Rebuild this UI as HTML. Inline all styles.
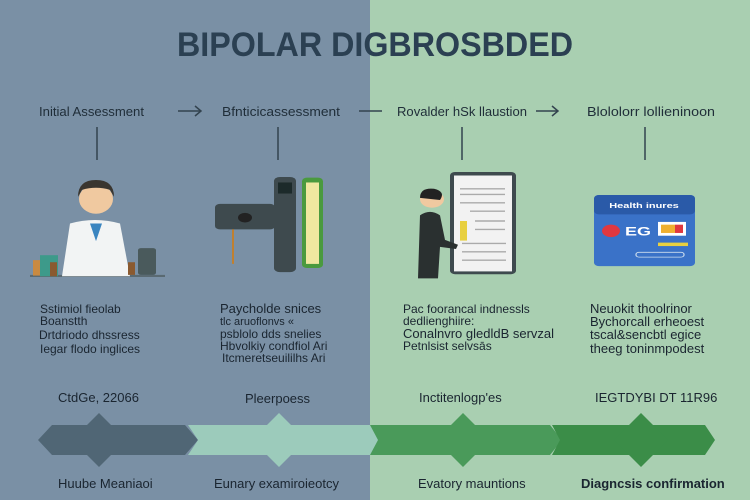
<!DOCTYPE html>
<html><head><meta charset="utf-8"><style>
html,body{margin:0;padding:0;width:750px;height:500px;overflow:hidden}
svg{display:block}
text{font-family:"Liberation Sans",sans-serif}
</style></head><body>
<svg width="750" height="500" viewBox="0 0 750 500">
<rect x="0" y="0" width="370" height="500" fill="#7a90a5"/>
<rect x="370" y="0" width="380" height="500" fill="#a9cfb1"/>
<text x="375" y="56" text-anchor="middle" font-size="34" font-weight="bold" fill="#2b4052" textLength="396" lengthAdjust="spacingAndGlyphs">BIPOLAR DIGBROSBDED</text>
<g font-size="13" fill="#1f2d38">
<text x="39" y="116" textLength="105" lengthAdjust="spacingAndGlyphs">Initial Assessment</text>
<text x="222" y="116" textLength="118" lengthAdjust="spacingAndGlyphs">Bfnticicassessment</text>
<text x="397" y="116" textLength="130" lengthAdjust="spacingAndGlyphs">Rovalder hSk llaustion</text>
<text x="587" y="116" textLength="128" lengthAdjust="spacingAndGlyphs">Blololorr lollieninoon</text>
</g>
<g stroke="#33434f" stroke-width="1.5" fill="none">
<path d="M178 111h23M195 106l6 5-6 5"/>
<path d="M359 111h23"/>
<path d="M536 111h22M552 106l6 5-6 5"/>
<path d="M97 127v33M278 127v33M462 127v33M645 127v33"/>
</g>
<!-- doctor -->
<g transform="translate(0,-1.4) scale(1,0.703)">
<rect x="30" y="393" width="135" height="3" fill="#5a6a72"/>
<rect x="138" y="355" width="18" height="38" rx="3" fill="#4a5a5c"/>
<path d="M62 395 L70 320 Q95 310 120 320 L130 395Z" fill="#f2f4f4"/>
<path d="M90 320 L96 345 L102 320Z" fill="#3a85c0"/>
<ellipse cx="96" cy="285" rx="17" ry="21" fill="#f0c9a0"/>
<path d="M78 282 Q78 258 96 258 Q114 258 114 282 L110 272 Q96 266 82 272Z" fill="#3a3630"/>
<rect x="40" y="365" width="18" height="30" fill="#3d9a8a"/>
<rect x="33" y="372" width="7" height="22" fill="#c98a40"/>
<rect x="50" y="375" width="7" height="20" fill="#8a5a30"/>
<rect x="128" y="375" width="7" height="18" fill="#8a5a30"/>
</g>
<!-- device -->
<g transform="translate(0,1.7) scale(1,0.69)">
<rect x="215" y="293" width="60" height="37" rx="5" fill="#3e4a4e"/>
<circle cx="245" cy="313" r="7" fill="#222"/>
<rect x="274" y="254" width="22" height="138" rx="6" fill="#3e4a4e"/>
<rect x="278" y="262" width="14" height="16" fill="#1c2a2a"/>
<rect x="302" y="255" width="21" height="131" rx="5" fill="#4a9a3e"/>
<rect x="306" y="262" width="13" height="118" fill="#f0e8a0"/>
<path d="M233 330v50" stroke="#c08030" stroke-width="2"/>
</g>
<!-- tablet and person -->
<g transform="translate(0,-1.6) scale(1,0.70)">
<rect x="450" y="248" width="66" height="146" rx="5" fill="#3e4a4e"/>
<rect x="454" y="253" width="58" height="137" fill="#f2f2f2"/>
<g stroke="#aaa" stroke-width="2"><path d="M460 272h45M460 280h45M460 292h45M470 304h35M475 318h30M475 330h30M462 350h44M462 362h44M462 374h44"/></g>
<rect x="460" y="318" width="7" height="28" fill="#e8d040"/>
<path d="M418 400 L420 310 Q430 300 440 310 L445 345 L458 352 L456 358 L440 355 L438 400Z" fill="#2a3030"/>
<circle cx="432" cy="287" r="12" fill="#f0c9a0"/>
<path d="M420 285 Q420 270 434 272 Q446 276 440 288 Z" fill="#222"/>
</g>
<!-- card -->
<g transform="translate(0,2.5) scale(1,0.69)">
<rect x="594" y="279" width="101" height="103" rx="5" fill="#3a72c8"/>
<rect x="594" y="279" width="101" height="28" rx="5" fill="#2a5aa8"/>
<text x="644" y="298" text-anchor="middle" font-size="11" font-weight="bold" fill="#fff">Health inures</text>
<circle cx="611" cy="331" r="9" fill="#e03840"/>
<text x="625" y="338" font-size="18" font-weight="bold" fill="#fff">EG</text>
<rect x="658" y="318" width="28" height="20" fill="#fff"/>
<rect x="661" y="322" width="14" height="12" fill="#f0b030"/>
<rect x="675" y="322" width="8" height="12" fill="#e03840"/>
<rect x="658" y="348" width="30" height="5" fill="#e8d040"/>
<rect x="636" y="362" width="48" height="7" rx="3" fill="none" stroke="#cde" stroke-width="1.2"/>
</g>
<g font-size="12" fill="#1a2530">
<text x="40" y="313">Sstimiol fieolab</text>
<text x="40" y="325">Boanstth</text>
<text x="39" y="339">Drtdriodo dhssress</text>
<text x="40" y="353">Iegar flodo inglices</text>
<text x="220" y="313" font-size="13">Paycholde snices</text>
<text x="220" y="325" font-size="11">tlc aruoflonvs «</text>
<text x="220" y="338">psblolo dds snelies</text>
<text x="220" y="350">Hbvolkiy condfiol Ari</text>
<text x="222" y="362">Itcmeretseuililhs Ari</text>
<text x="403" y="313">Pac foorancal indnessls</text>
<text x="403" y="325">dedlienghiire:</text>
<text x="403" y="338" font-size="13">Conalnvro gledldB servzal</text>
<text x="403" y="350">Petnlsist selvsās</text>
<text x="590" y="313" font-size="13">Neuokit thoolrinor</text>
<text x="590" y="326" font-size="13">Bychorcall erheoest</text>
<text x="590" y="339" font-size="13">tscal&amp;sencbtl egice</text>
<text x="590" y="353" font-size="13">theeg toninmpodest</text>
</g>
<g font-size="13" fill="#1a2530">
<text x="58" y="402">CtdGe, 22066</text>
<text x="245" y="403">Pleerpoess</text>
<text x="419" y="402">Inctitenlogp'es</text>
<text x="595" y="402">IEGTDYBI DT 11R96</text>
</g>
<!-- arrow band -->
<polygon points="38,440 52,425 185,425 198,440 185,455 52,455" fill="#506675"/>
<polygon points="188,425 370,425 382,440 370,455 188,455 198,440" fill="#9ccbbb"/>
<polygon points="370,425 550,425 562,440 550,455 370,455 378,440" fill="#4a9a5a"/>
<polygon points="552,425 705,425 715,440 705,455 552,455 560,440" fill="#3b8d48"/>
<polygon points="99,413 126,440 99,467 72,440" fill="#506675"/>
<polygon points="279,413 306,440 279,467 252,440" fill="#9ccbbb"/>
<polygon points="463,413 490,440 463,467 436,440" fill="#4a9a5a"/>
<polygon points="641,413 668,440 641,467 614,440" fill="#3b8d48"/>
<g font-size="13" fill="#1a2530">
<text x="58" y="488">Huube Meaniaoi</text>
<text x="214" y="488">Eunary examiroieotcy</text>
<text x="418" y="488">Evatory mauntions</text>
<text x="581" y="488" font-weight="bold">Diagncsis confirmation</text>
</g>
</svg>
</body></html>
